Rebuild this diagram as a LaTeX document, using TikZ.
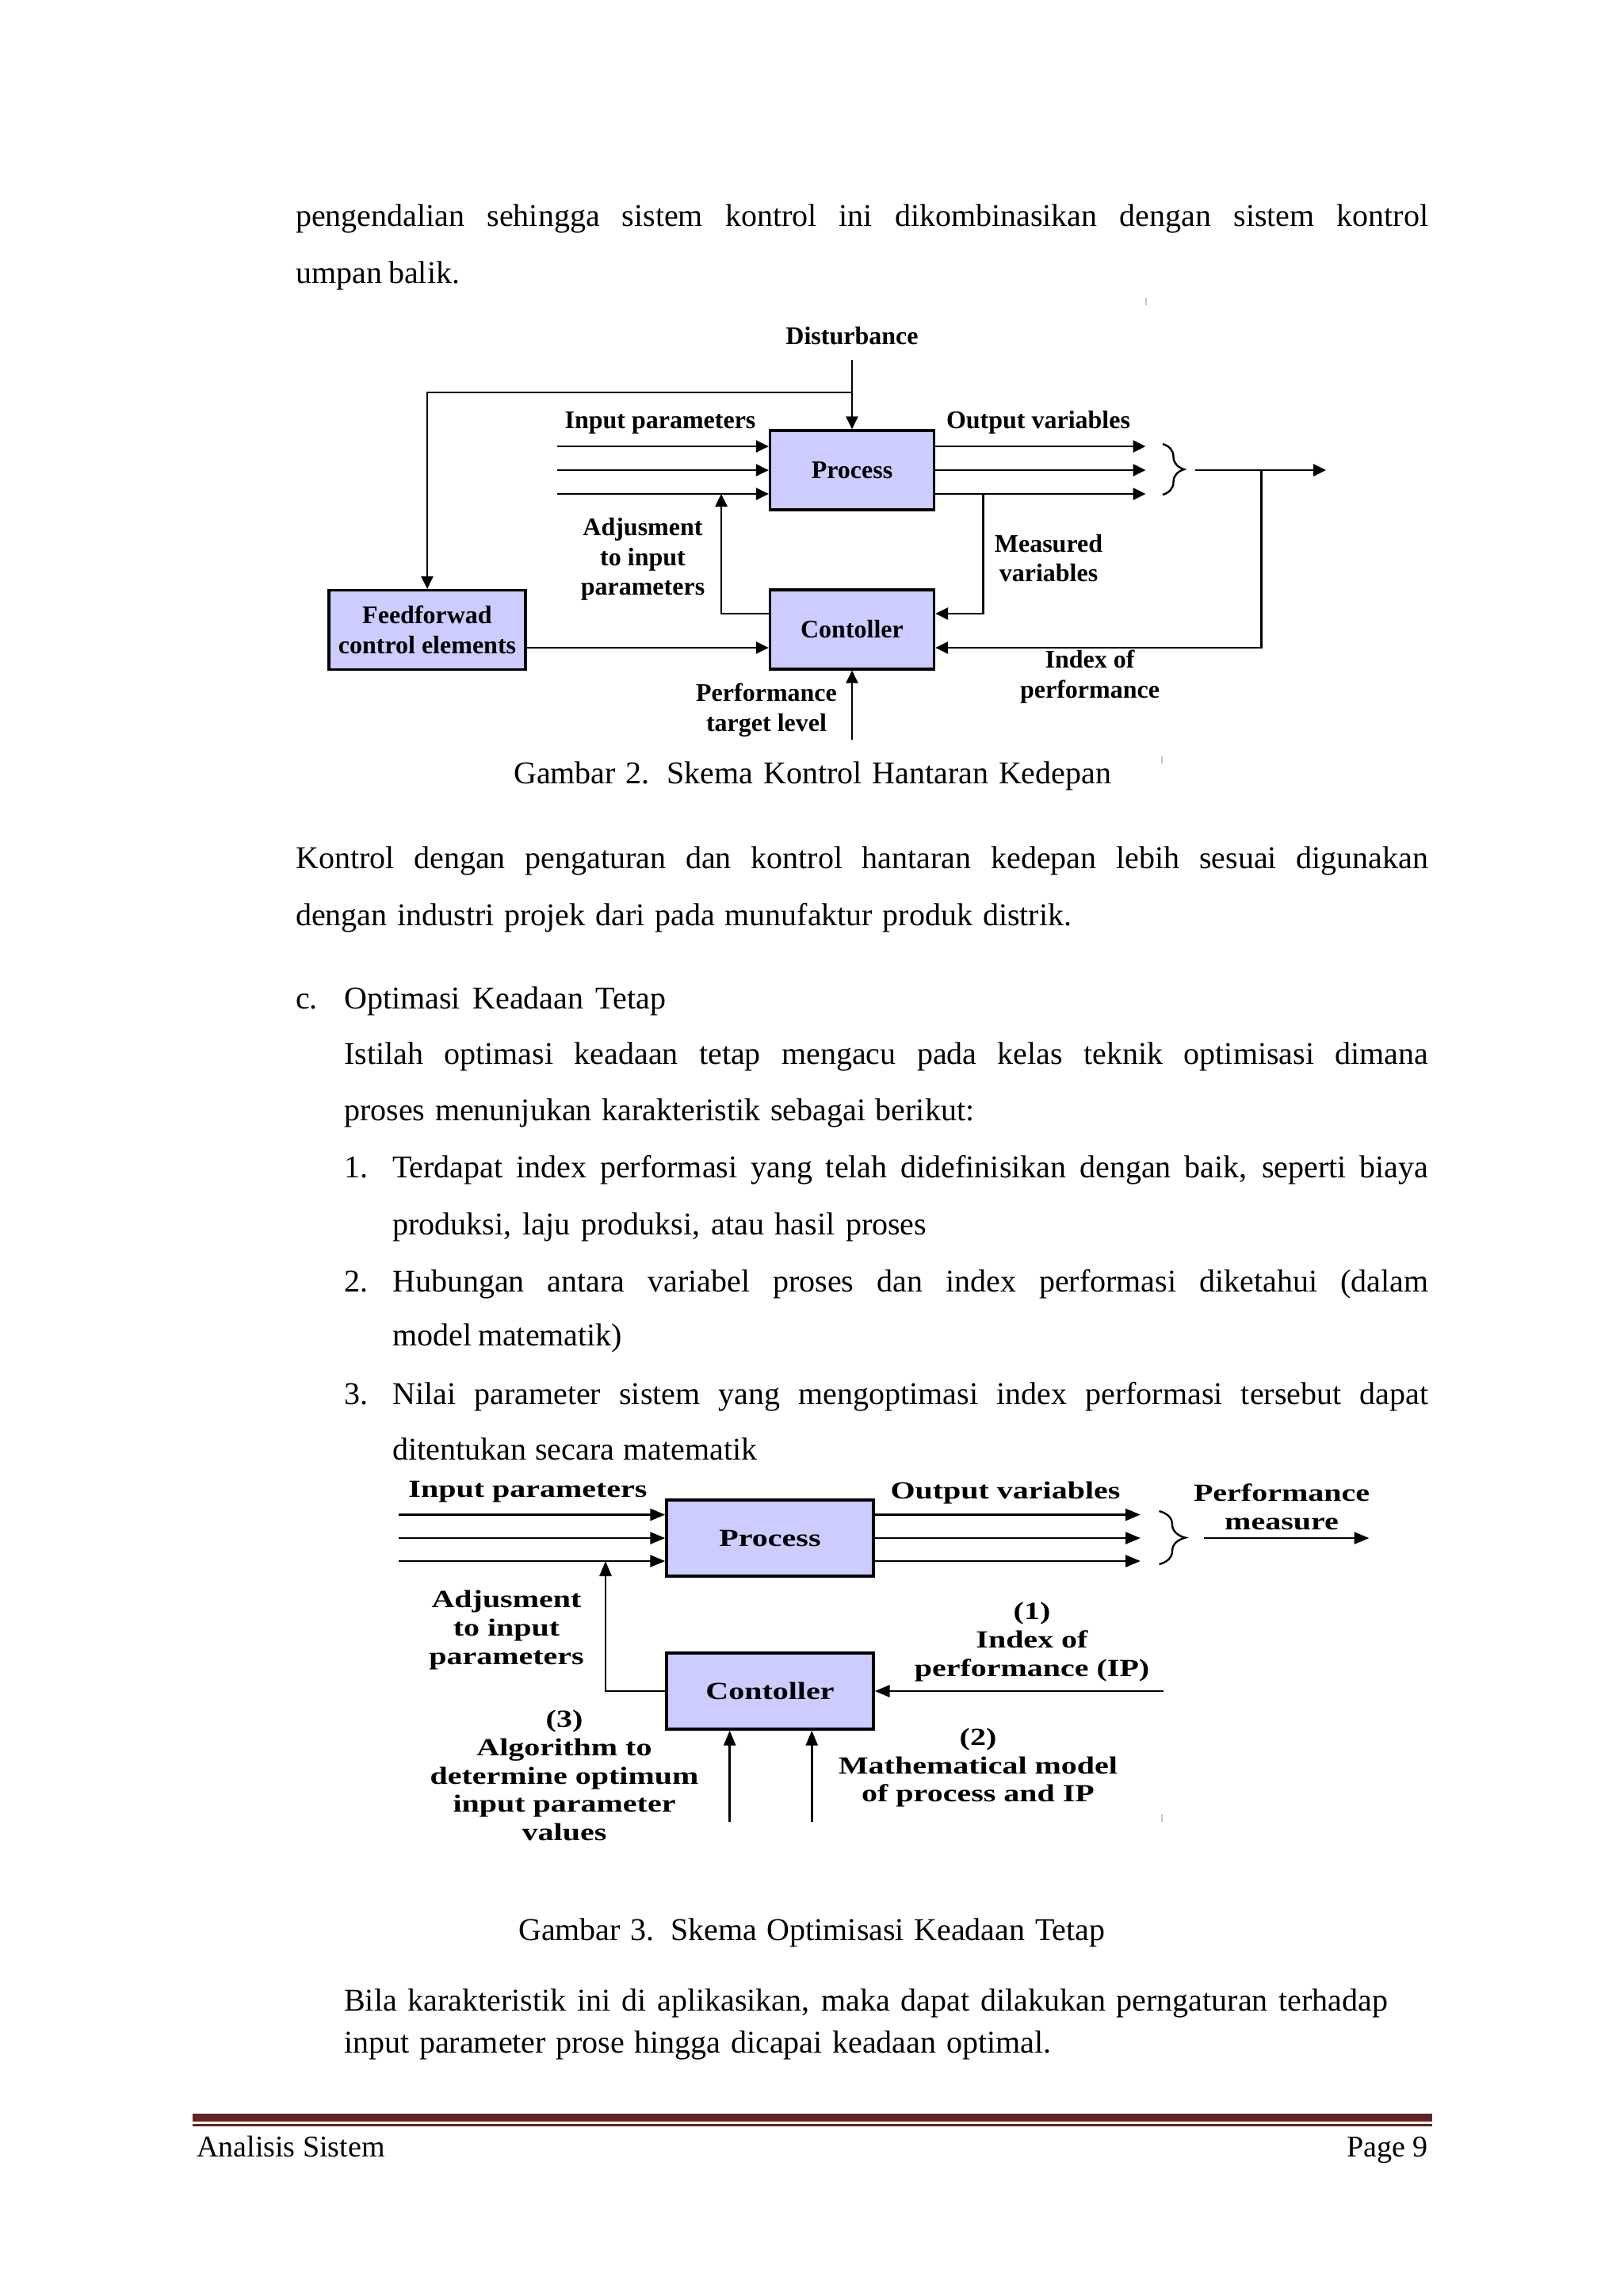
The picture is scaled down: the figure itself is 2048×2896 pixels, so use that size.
\documentclass[tikz,border=0pt]{standalone}
\usepackage{fontspec}
\setmainfont{Liberation Serif}
\newfontfamily\wideserif[FakeStretch=1.29]{Liberation Serif}
\usetikzlibrary{arrows.meta,decorations.pathreplacing}
\definecolor{footred}{HTML}{622423}
\definecolor{boxblue}{HTML}{CCCCFF}

\begin{document}
\begin{tikzpicture}[x=1pt, y=-1pt,
    body/.style={anchor=base west, inner sep=0pt, font=\fontsize{40}{48}\selectfont},
    foot/.style={inner sep=0pt, font=\fontsize{38}{44}\selectfont},
    box/.style={draw, line width=3.2pt, fill=boxblue, align=center, inner sep=0pt,
        minimum width=207pt, minimum height=100pt, font=\fontsize{32}{37.7}\selectfont\bfseries},
    lbl/.style={align=center, inner sep=0pt, font=\fontsize{32}{37.7}\selectfont\bfseries},
    arr/.style={-{Triangle[length=16pt,width=15pt]}, line width=2.6pt},
    box2/.style={draw, line width=3.4pt, fill=boxblue, align=center, inner sep=0pt,
        minimum width=261pt, minimum height=96pt, font=\fontsize{31}{35.6}\wideserif\bfseries},
    lbl2/.style={align=center, inner sep=0pt, font=\fontsize{31}{35.6}\wideserif\bfseries},
    arr2/.style={-{Triangle[length=19pt,width=15pt]}, line width=2.8pt},
    curly/.style={decorate, line width=2.4pt}
  ]
  \useasboundingbox (0,0) rectangle (2048,2896);
  \fill[white] (0,0) rectangle (2048,2896);

  % text above the first figure
  \node[body] (l1) at (373,285) {\makebox[1429pt][s]{pengendalian sehingga sistem kontrol ini dikombinasikan dengan sistem kontrol}};
  \node[body] (l2) at (373,357) {\makebox[207pt][s]{umpan balik.}};

  % Gambar 2
  \node[lbl] (dist) at (1075,424) {Disturbance};
  \node[box] (pro) at (1075,593) {Process};
  \node[box] (con) at (1075,794) {Contoller};
  \node[box, minimum width=248pt] (ff) at (539,794.5) {Feedforwad\\control elements};
  \node[lbl] (inp) at (833,533) {Input parameters};
  \node[lbl] (outp) at (1310,533) {Output variables};
  \node[lbl] (adj) at (811,705.5) {Adjusment\\to input\\parameters};
  \node[lbl] (meas) at (1323,704) {Measured\\variables};
  \node[lbl] (ipf) at (1375,853.5) {Index of\\performance};
  \node[lbl] (ptl) at (967,896) {Performance\\target level};

  \coordinate (dtop) at (1075,454);
  \coordinate (fb) at (1075,495);
  \coordinate (res) at (1507.6,593);
  \coordinate (resend) at (1673,593);
  \coordinate (ix) at (1591.5,593);
  \coordinate (mv) at (1240.6,623);
  \coordinate (aj) at (910,623);
  \coordinate (pt) at (1075,933);

  \foreach \y [count=\i] in {563,593,623} {
    \coordinate (in\i) at (703,\y);
    \coordinate (out\i) at (1445.5,\y);
    \draw[arr] (in\i) -- (in\i -| pro.west);
    \draw[arr] (out\i -| pro.east) -- (out\i);
  }
  \draw[arr] (dtop) -- (pro.north);
  \draw[arr] (fb) -| (ff.north);
  \draw[curly, decoration={brace, amplitude=27pt}] (1467,560) -- (1467,624);
  \draw[arr] (res) -- (resend);
  \draw[arr] (ix) |- ([yshift=-23pt]con.east);
  \draw[arr] (mv) |- ([yshift=20pt]con.east);
  \draw[arr] ([yshift=20pt]con.west) -| (aj);
  \draw[arr] ([yshift=-22.5pt]ff.east) -- ([yshift=-22.5pt]ff.east -| con.west);
  \draw[arr] (pt) -- (con.south);
  \draw[gray!45, line width=1.2pt] (1446,376) -- (1446,385);
  \draw[gray!45, line width=1.2pt] (1466,954) -- (1466,963);

  \node[body] (cap2) at (648,988) {\makebox[754pt][s]{Gambar 2. Skema Kontrol Hantaran Kedepan}};

  % text between the figures
  \node[body] (l3) at (373,1095) {\makebox[1429pt][s]{Kontrol dengan pengaturan dan kontrol hantaran kedepan lebih sesuai digunakan}};
  \node[body] (l4) at (373,1167) {\makebox[979pt][s]{dengan industri projek dari pada munufaktur produk distrik.}};
  \node[body] (l5a) at (373,1272) {c.};
  \node[body] (l5) at (434,1272) {\makebox[406pt][s]{Optimasi Keadaan Tetap}};
  \node[body] (l6) at (434,1342) {\makebox[1368pt][s]{Istilah optimasi keadaan tetap mengacu pada kelas teknik optimisasi dimana}};
  \node[body] (l7) at (434,1413) {\makebox[795pt][s]{proses menunjukan karakteristik sebagai berikut:}};
  \node[body] (n1) at (434,1485) {1.};
  \node[body] (l8) at (495,1485) {\makebox[1307pt][s]{Terdapat index performasi yang telah didefinisikan dengan baik, seperti biaya}};
  \node[body] (l9) at (495,1557) {\makebox[674pt][s]{produksi, laju produksi, atau hasil proses}};
  \node[body] (n2) at (434,1629) {2.};
  \node[body] (l10) at (495,1629) {\makebox[1307pt][s]{Hubungan antara variabel proses dan index performasi diketahui (dalam}};
  \node[body] (l11) at (495,1697) {\makebox[290pt][s]{model matematik)}};
  \node[body] (n3) at (434,1771) {3.};
  \node[body] (l12) at (495,1771) {\makebox[1307pt][s]{Nilai parameter sistem yang mengoptimasi index performasi tersebut dapat}};
  \node[body] (l13) at (495,1841) {\makebox[460pt][s]{ditentukan secara matematik}};

  % Gambar 3
  \node[box2] (pro2) at (971.5,1940) {Process};
  \node[box2] (con2) at (971.5,2133) {Contoller};
  \node[lbl2] (inp2) at (666,1881.5) {Input parameters};
  \node[lbl2] (outp2) at (1268.5,1883) {Output variables};
  \node[lbl2] (pm2) at (1617,1901) {Performance\\measure};
  \node[lbl2] (adj2) at (639,2056) {Adjusment\\to input\\parameters};
  \node[lbl2] (ip2) at (1302,2071) {(1)\\Index of\\performance (IP)};
  \node[lbl2] (mm2) at (1234,2229.6) {(2)\\Mathematical model\\of process and IP};
  \node[lbl2] (alg2) at (712,2239.6) {(3)\\Algorithm to\\determine optimum\\input parameter\\values};

  \coordinate (res2) at (1519,1940);
  \coordinate (res2end) at (1727.5,1940);
  \coordinate (aj2) at (764,1969);
  \coordinate (ipin) at (1468,2133);
  \coordinate (up1) at (920.7,2297.6);
  \coordinate (up2) at (1024.2,2297.6);

  \foreach \y [count=\i] in {1910.5,1940,1969} {
    \coordinate (in2\i) at (503,\y);
    \coordinate (out2\i) at (1439,\y);
    \draw[arr2] (in2\i) -- (in2\i -| pro2.west);
    \draw[arr2] (out2\i -| pro2.east) -- (out2\i);
  }
  \draw[curly, decoration={brace, amplitude=33pt}] (1462.5,1906) -- (1462.5,1973);
  \draw[arr2] (res2) -- (res2end);
  \draw[arr2] (con2.west) -| (aj2);
  \draw[arr2] (ipin) -- (con2.east);
  \draw[arr2] (up1) -- (up1 |- con2.south);
  \draw[arr2] (up2) -- (up2 |- con2.south);
  \draw[gray!45, line width=1.2pt] (1466,2288) -- (1466,2298);

  \node[body] (cap3) at (654,2447) {\makebox[740pt][s]{Gambar 3. Skema Optimisasi Keadaan Tetap}};

  % text below the second figure
  \node[body] (l14) at (434,2536) {\makebox[1317pt][s]{Bila karakteristik ini di aplikasikan, maka dapat dilakukan perngaturan terhadap}};
  \node[body] (l15) at (434,2589) {\makebox[892pt][s]{input parameter prose hingga dicapai keadaan optimal.}};

  % footer
  \fill[footred] (243,2666) rectangle (1807,2676);
  \fill[footred] (243,2679) rectangle (1807,2682);
  \node[foot, anchor=base west] (fl) at (248,2720) {Analisis Sistem};
  \node[foot, anchor=base east] (fr) at (1802,2720) {Page 9};
\end{tikzpicture}
\end{document}
